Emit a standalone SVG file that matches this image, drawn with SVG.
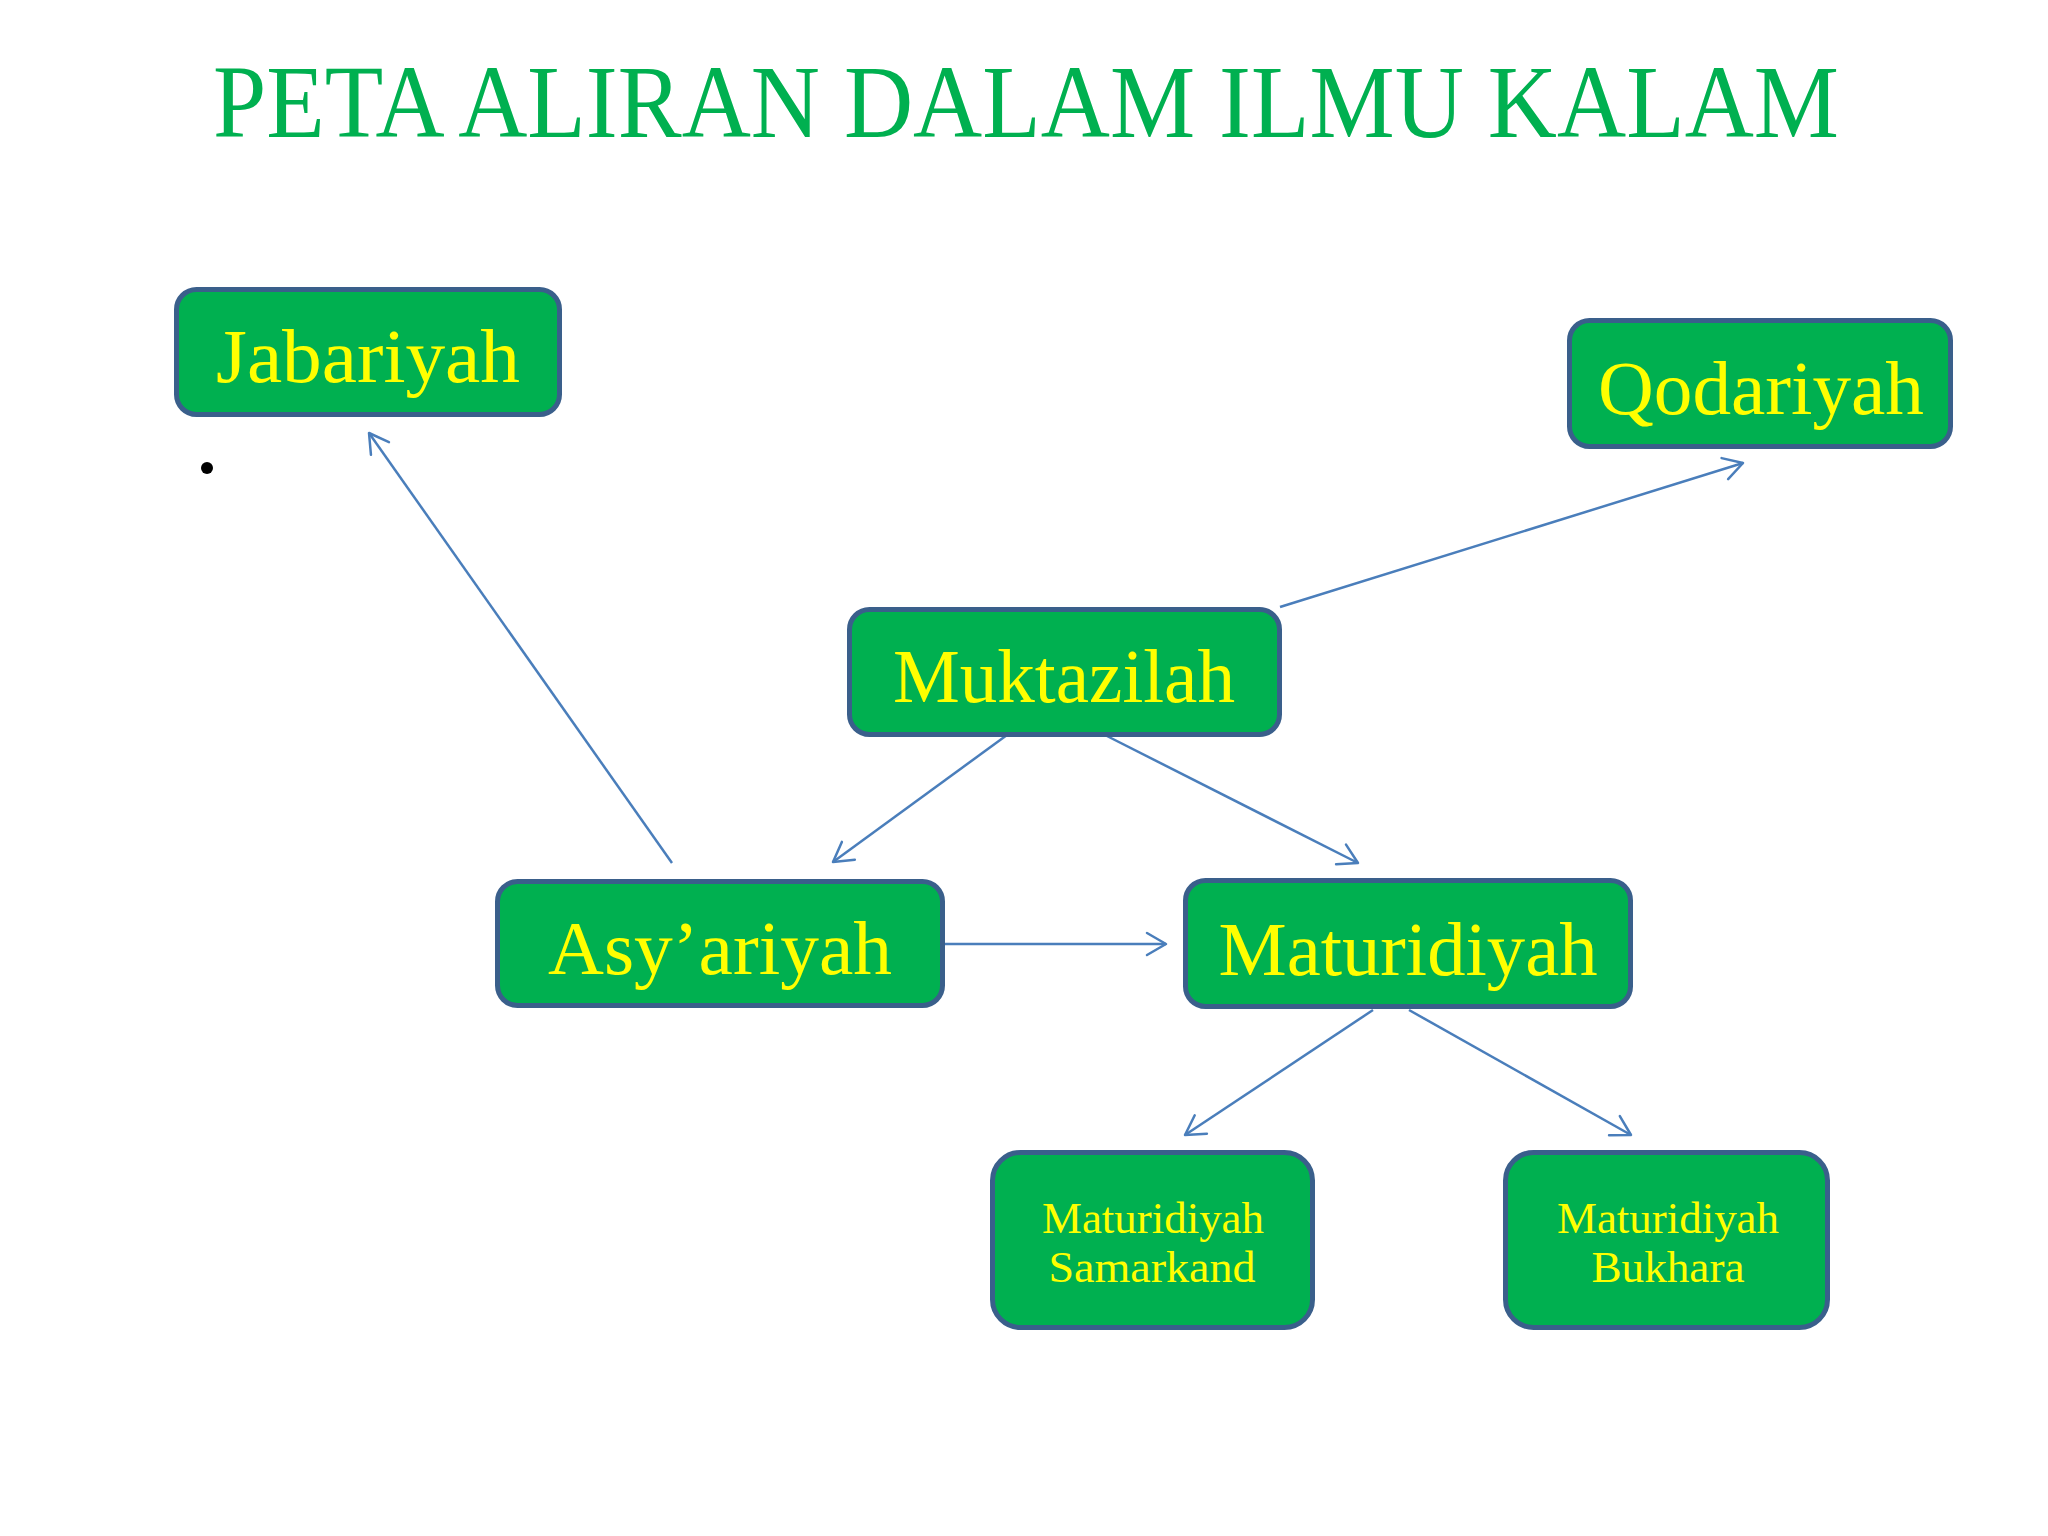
<svg xmlns="http://www.w3.org/2000/svg" width="2048" height="1536" viewBox="0 0 2048 1536">
  <style>
    .node rect { fill: #00B050; stroke: #3A5F8B; stroke-width: 5; }
    .node text { fill: #FFFF00; font-family: "Liberation Serif", "DejaVu Serif", serif; text-anchor: middle; }
    .big { font-size: 76px; }
    .small { font-size: 44px; }
    .title { fill: #00B050; font-family: "Liberation Serif", "DejaVu Serif", serif; font-size: 103px; text-anchor: middle; }
    .conn line { stroke: #4A7EBB; stroke-width: 2.5; fill: none; marker-end: url(#arrow); }
  </style>
  <defs>
    <marker id="arrow" markerUnits="userSpaceOnUse" viewBox="-25 -15 30 30" refX="0" refY="0" markerWidth="30" markerHeight="30" orient="auto" overflow="visible">
      <path d="M -19 -11 L 0 0 L -19 11" fill="none" stroke="#4A7EBB" stroke-width="2.5" stroke-linecap="round" stroke-linejoin="round"/>
    </marker>
  </defs>
  <rect x="0" y="0" width="2048" height="1536" fill="#FFFFFF"/>
  <text class="title" x="1026" y="137" textLength="1626" lengthAdjust="spacingAndGlyphs">PETA ALIRAN DALAM ILMU KALAM</text>
  <circle cx="207" cy="468" r="6" fill="#000000"/>

  <g id="connectors" class="conn">
    <line x1="672" y1="863" x2="369" y2="433"/>
    <line x1="1280" y1="607" x2="1743" y2="463"/>
    <line x1="1007" y1="735" x2="833" y2="862"/>
    <line x1="1105" y1="735" x2="1358" y2="863"/>
    <line x1="945" y1="944" x2="1166" y2="944"/>
    <line x1="1373" y1="1010" x2="1185" y2="1135"/>
    <line x1="1409" y1="1010" x2="1631" y2="1135"/>
  </g>

  <g id="jabariyah" class="node">
    <rect x="176.5" y="289.5" width="383" height="125" rx="20"/>
    <text class="big" x="368" y="382" textLength="304" lengthAdjust="spacingAndGlyphs">Jabariyah</text>
  </g>
  <g id="qodariyah" class="node">
    <rect x="1569.5" y="320.5" width="381" height="126" rx="20"/>
    <text class="big" x="1761" y="414" textLength="326" lengthAdjust="spacingAndGlyphs">Qodariyah</text>
  </g>
  <g id="muktazilah" class="node">
    <rect x="849.5" y="609.5" width="430" height="125" rx="20"/>
    <text class="big" x="1064" y="702" textLength="342" lengthAdjust="spacingAndGlyphs">Muktazilah</text>
  </g>
  <g id="asyariyah" class="node">
    <rect x="497.5" y="881.5" width="445" height="124" rx="20"/>
    <text class="big" x="720" y="974" textLength="344" lengthAdjust="spacingAndGlyphs">Asy’ariyah</text>
  </g>
  <g id="maturidiyah" class="node">
    <rect x="1185.5" y="880.5" width="445" height="126" rx="20"/>
    <text class="big" x="1408" y="975" textLength="379" lengthAdjust="spacingAndGlyphs">Maturidiyah</text>
  </g>
  <g id="samarkand" class="node">
    <rect x="992.5" y="1152.5" width="320" height="175" rx="28"/>
    <text class="small" x="1153" y="1233" textLength="222" lengthAdjust="spacingAndGlyphs">Maturidiyah</text>
    <text class="small" x="1152" y="1282" textLength="207" lengthAdjust="spacingAndGlyphs">Samarkand</text>
  </g>
  <g id="bukhara" class="node">
    <rect x="1505.5" y="1152.5" width="322" height="175" rx="28"/>
    <text class="small" x="1668" y="1233" textLength="222" lengthAdjust="spacingAndGlyphs">Maturidiyah</text>
    <text class="small" x="1668" y="1282" textLength="153" lengthAdjust="spacingAndGlyphs">Bukhara</text>
  </g>
</svg>
